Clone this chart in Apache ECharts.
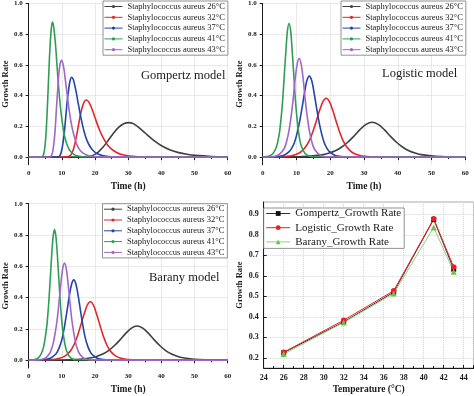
<!DOCTYPE html>
<html>
<head>
<meta charset="utf-8">
<title>Staphylococcus aureus growth rate</title>
<script src="https://cdn.jsdelivr.net/npm/echarts@6/dist/echarts.min.js"></script>
<style>
  html, body { margin: 0; padding: 0; background: #fff; }
  #chart { width: 474px; height: 396px; }
</style>
</head>
<body>
<div id="chart"></div>
<script>
// legend names / tick values
const tempNames = ['Staphylococcus aureus 26°C', 'Staphylococcus aureus 32°C', 'Staphylococcus aureus 37°C', 'Staphylococcus aureus 41°C', 'Staphylococcus aureus 43°C']
const rateTicks = [0, 0.2, 0.4, 0.6, 0.8, 1.0]
const rateTicks2 = [0.2, 0.3, 0.4, 0.5, 0.6, 0.7, 0.8, 0.9]

// Gompertz model: [time (h), growth rate]
const gomp26 = [[0,0],[15,0],[17.8,0.003],[19.35,0.011],[20.9,0.031],[22.45,0.065],[24,0.109],[25.55,0.155],[27.1,0.193],[28.65,0.217],[30.2,0.224],[31.45,0.218],[32.7,0.201],[33.95,0.179],[35.2,0.155],[37.7,0.109],[40.2,0.072],[42.7,0.046],[45.2,0.029],[47.7,0.018],[50.2,0.011],[55.2,0.004],[60,0.0015]]
const gomp32 = [[0,0],[10,0],[11.55,0.001],[12.2,0.005],[12.85,0.018],[13.5,0.051],[14.15,0.108],[14.8,0.181],[15.45,0.258],[16.1,0.321],[16.75,0.36],[17.4,0.372],[18.05,0.361],[18.7,0.334],[19.35,0.298],[20,0.257],[21.3,0.18],[22.6,0.12],[23.9,0.076],[25.2,0.048],[26.5,0.03],[27.8,0.018],[30.4,0.007],[33,0.0025],[35.6,0.001],[60,0]]
const gomp37 = [[0,0],[8,0],[8.8,0.001],[9.3,0.006],[9.75,0.026],[10.2,0.072],[10.7,0.15],[11.15,0.254],[11.6,0.36],[12.1,0.448],[12.55,0.503],[13,0.52],[13.45,0.505],[13.9,0.467],[14.4,0.416],[14.85,0.36],[15.8,0.252],[16.7,0.167],[17.6,0.107],[18.55,0.067],[19.5,0.041],[20.4,0.025],[22.25,0.0095],[24.1,0.0035],[26,0.0013],[60,0]]
const gomp41 = [[0,0],[3.3,0],[4.1,0.003],[4.45,0.014],[4.8,0.048],[5.15,0.125],[5.5,0.256],[5.85,0.43],[6.2,0.61],[6.55,0.758],[6.9,0.851],[7.2,0.88],[7.5,0.855],[7.85,0.791],[8.2,0.705],[8.5,0.609],[9.15,0.427],[9.8,0.283],[10.45,0.181],[11.1,0.113],[11.75,0.07],[12.4,0.043],[13.7,0.016],[15,0.006],[16.3,0.002],[60,0]]
const gomp43 = [[0,0],[5.5,0],[6.4,0.001],[6.8,0.008],[7.2,0.031],[7.6,0.087],[8,0.182],[8.35,0.307],[8.75,0.437],[9.1,0.543],[9.5,0.609],[9.9,0.63],[10.3,0.612],[10.7,0.566],[11.05,0.504],[11.45,0.436],[12.2,0.306],[13,0.202],[13.8,0.13],[14.55,0.081],[15.3,0.05],[16.1,0.031],[17.65,0.0115],[19.2,0.004],[20.75,0.0016],[60,0]]

// Logistic model
const logi26 = [[0,0],[6.9,0.001],[10.6,0.002],[14.2,0.006],[17.9,0.016],[19.7,0.026],[21.5,0.041],[23.3,0.064],[25.1,0.095],[26.95,0.135],[28.8,0.179],[30.6,0.213],[32.4,0.227],[34.2,0.213],[36,0.179],[37.85,0.135],[39.7,0.095],[41.5,0.064],[43.3,0.041],[45.1,0.026],[46.9,0.016],[50.6,0.006],[54.2,0.002],[57.9,0.001],[60,0]]
const logi32 = [[0,0],[4.8,0.001],[6.8,0.004],[8.8,0.01],[10.8,0.027],[11.8,0.044],[12.8,0.069],[13.8,0.107],[14.8,0.161],[15.8,0.229],[16.8,0.301],[17.8,0.36],[18.8,0.383],[19.8,0.36],[20.8,0.301],[21.8,0.229],[22.8,0.161],[23.8,0.107],[24.8,0.069],[25.8,0.044],[26.8,0.027],[28.8,0.01],[30.8,0.004],[32.8,0.001],[60,0]]
const logi37 = [[0,0],[3.5,0.002],[5,0.005],[6.45,0.014],[7.9,0.037],[8.65,0.06],[9.4,0.095],[10.1,0.148],[10.85,0.221],[11.6,0.314],[12.35,0.414],[13.05,0.495],[13.8,0.527],[14.55,0.495],[15.25,0.414],[16,0.314],[16.75,0.221],[17.5,0.148],[18.2,0.095],[18.95,0.06],[19.7,0.037],[21.15,0.014],[22.6,0.005],[24.1,0.002],[60,0]]
const logi41 = [[0,0],[1.1,0.003],[2.1,0.009],[3.05,0.023],[4,0.062],[4.45,0.099],[4.95,0.157],[5.4,0.244],[5.9,0.365],[6.35,0.519],[6.85,0.684],[7.3,0.818],[7.8,0.87],[8.3,0.818],[8.75,0.684],[9.25,0.519],[9.7,0.365],[10.2,0.244],[10.65,0.157],[11.1,0.099],[11.6,0.062],[12.55,0.023],[13.5,0.009],[14.5,0.003],[60,0]]
const logi43 = [[0,0],[2.55,0.002],[3.75,0.006],[4.9,0.017],[6.1,0.046],[6.7,0.073],[7.25,0.116],[7.85,0.18],[8.45,0.27],[9.05,0.384],[9.6,0.506],[10.2,0.604],[10.8,0.643],[11.4,0.604],[12,0.506],[12.55,0.384],[13.15,0.27],[13.75,0.18],[14.35,0.116],[14.9,0.073],[15.5,0.046],[16.7,0.017],[17.85,0.006],[19.05,0.002],[60,0]]

// Barany model
const bara26 = [[0,0],[8.55,0.001],[12,0.002],[15.45,0.006],[18.9,0.015],[20.65,0.025],[22.35,0.039],[24.1,0.061],[25.8,0.092],[27.55,0.13],[29.25,0.171],[31,0.205],[32.7,0.218],[34.4,0.205],[36.15,0.171],[37.85,0.13],[39.6,0.092],[41.3,0.061],[43.05,0.039],[44.75,0.025],[46.5,0.015],[49.95,0.006],[53.4,0.002],[56.85,0.001],[60,0]]
const bara32 = [[0,0],[5.15,0.001],[7.05,0.004],[9,0.01],[10.9,0.026],[11.85,0.042],[12.85,0.067],[13.8,0.105],[14.75,0.157],[15.7,0.223],[16.7,0.293],[17.65,0.351],[18.6,0.373],[19.55,0.351],[20.5,0.293],[21.5,0.223],[22.45,0.157],[23.4,0.105],[24.35,0.067],[25.35,0.042],[26.3,0.026],[28.2,0.01],[30.15,0.004],[32.05,0.001],[60,0]]
const bara37 = [[0,0],[3.9,0.002],[5.25,0.005],[6.65,0.014],[8.05,0.036],[8.75,0.058],[9.45,0.093],[10.15,0.144],[10.8,0.215],[11.5,0.306],[12.2,0.403],[12.9,0.482],[13.6,0.513],[14.3,0.482],[15,0.403],[15.7,0.306],[16.4,0.215],[17.05,0.144],[17.75,0.093],[18.45,0.058],[19.15,0.036],[20.55,0.014],[21.95,0.005],[23.3,0.002],[60,0]]
const bara41 = [[0,0],[1.45,0.003],[2.35,0.008],[3.25,0.022],[4.15,0.059],[4.6,0.095],[5.05,0.151],[5.55,0.234],[6,0.351],[6.45,0.498],[6.9,0.657],[7.35,0.785],[7.8,0.835],[8.25,0.785],[8.7,0.657],[9.15,0.498],[9.6,0.351],[10.05,0.234],[10.55,0.151],[11,0.095],[11.45,0.059],[12.35,0.022],[13.25,0.008],[14.15,0.003],[60,0]]
const bara43 = [[0,0],[3,0.002],[4.15,0.006],[5.25,0.017],[6.35,0.044],[6.9,0.071],[7.45,0.112],[8,0.174],[8.6,0.26],[9.15,0.37],[9.7,0.488],[10.25,0.583],[10.8,0.62],[11.35,0.583],[11.9,0.488],[12.45,0.37],[13,0.26],[13.6,0.174],[14.15,0.112],[14.7,0.071],[15.25,0.044],[16.35,0.017],[17.45,0.006],[18.6,0.002],[60,0]]

// growth rate vs temperature
const temps = [26, 32, 37, 41, 43]
const gompertzRate = [0.225, 0.375, 0.52, 0.875, 0.632]
const logisticRate = [0.227, 0.383, 0.527, 0.878, 0.643]
const baranyRate = [0.218, 0.372, 0.513, 0.836, 0.62]

const serif = 'Liberation Serif'
const ink = '#1a1a1a'
const tempColors = ['#404040', '#e3262b', '#2146a8', '#2f9e55', '#a066c8']

const tickFont = { fontFamily: serif, fontSize: 7, fontWeight: 'bold', color: ink }
const nameFont = { fontFamily: serif, fontSize: 9.5, fontWeight: 'bold', color: ink }
const gridLine = { show: true, lineStyle: { color: '#d4d4d4', type: 'dotted', width: 1 } }

function timeAxis(gridIndex) {
  return {
    type: 'value', gridIndex, min: 0, max: 60, interval: 10,
    name: 'Time (h)', nameLocation: 'middle', nameGap: 17, nameTextStyle: nameFont,
    axisLine: { lineStyle: { color: ink, width: 1 } },
    axisTick: { length: 3, lineStyle: { color: ink } },
    minorTick: { show: true, splitNumber: 2, length: 2, lineStyle: { color: ink } },
    axisLabel: Object.assign({ margin: 5 }, tickFont),
    splitLine: gridLine
  }
}

function rateAxis(gridIndex) {
  return {
    type: 'value', gridIndex, min: -0.05, max: 1,
    name: 'Growth Rate', nameLocation: 'middle', nameGap: 16,
    nameTextStyle: Object.assign({}, nameFont, { fontSize: 8.5 }),
    axisLine: { show: true, lineStyle: { color: ink, width: 1 } },
    axisTick: { show: true, length: 3, customValues: rateTicks, lineStyle: { color: ink } },
    axisLabel: Object.assign({ margin: 6, customValues: rateTicks, formatter: v => v.toFixed(1) }, tickFont),
    splitLine: gridLine
  }
}

function curveLegend(left, top) {
  return {
    orient: 'vertical', left, top,
    data: tempNames,
    itemWidth: 18, itemHeight: 4, itemGap: 1.8,
    padding: [1, 3, 1, 1],
    lineStyle: { width: 1 },
    borderColor: '#777', borderWidth: 0.8, backgroundColor: '#fff',
    textStyle: { fontFamily: serif, fontSize: 8.5, lineHeight: 9, color: ink }
  }
}

function curveSeries(axisIndex, sets) {
  return sets.map((data, i) => ({
    name: tempNames[i], type: 'line',
    xAxisIndex: axisIndex, yAxisIndex: axisIndex,
    data, smooth: 0.3, showSymbol: false, symbol: 'circle', symbolSize: 3,
    color: tempColors[i],
    lineStyle: { width: 1.6, color: tempColors[i] }
  }))
}

const modelLabel = (text, left, top) => ({
  text, left, top, padding: 0,
  textStyle: { fontFamily: serif, fontSize: 12.5, fontWeight: 'normal', color: ink }
})

const chart = echarts.init(document.getElementById('chart'), null, { renderer: 'canvas' })
chart.setOption({
  animation: false,
  backgroundColor: '#fff',
  title: [
    modelLabel('Gompertz model', 141, 69),
    modelLabel('Logistic model', 382, 67),
    modelLabel('Barany model', 149, 271)
  ],
  grid: [
    { left: 24, top: 2, width: 203.7, height: 162.75 },
    { left: 262.7, top: 2, width: 202.6, height: 162.75 },
    { left: 23.7, top: 203.7, width: 204, height: 165.2 },
    { left: 263.7, top: 202, width: 210, height: 167.7, show: true, borderColor: '#aaa', borderWidth: 1 }
  ],
  xAxis: [
    timeAxis(0), timeAxis(1), timeAxis(2),
    {
      type: 'value', gridIndex: 3, min: 24, max: 45, interval: 2,
      name: 'Temperature (°C)', nameLocation: 'middle', nameGap: 17, nameTextStyle: nameFont,
      axisLine: { lineStyle: { color: ink, width: 1 } },
      axisTick: { inside: true, length: 3, lineStyle: { color: ink } },
      minorTick: { show: true, splitNumber: 2, length: 2, lineStyle: { color: ink } },
      axisLabel: Object.assign({}, tickFont, { margin: 6, fontSize: 8, showMaxLabel: false }),
      splitLine: gridLine
    }
  ],
  yAxis: [
    rateAxis(0), rateAxis(1), rateAxis(2),
    {
      type: 'value', gridIndex: 3, min: 0.15, max: 0.96,
      name: 'Growth Rate', nameLocation: 'middle', nameGap: 19,
      nameTextStyle: Object.assign({}, nameFont, { fontSize: 8.5 }),
      axisLine: { show: true, lineStyle: { color: ink, width: 1 } },
      axisTick: { show: true, inside: true, length: 3, customValues: rateTicks2, lineStyle: { color: ink } },
      axisLabel: Object.assign({}, tickFont, { margin: 5, fontSize: 8, customValues: rateTicks2, formatter: v => v.toFixed(1) }),
      splitLine: gridLine
    }
  ],
  legend: [
    curveLegend(103, 1),
    curveLegend(341, 1),
    curveLegend(102.5, 203.7),
    {
      orient: 'vertical', left: 263.7, top: 208,
      data: ['Gompertz_Growth Rate', 'Logistic_Growth Rate', 'Barany_Growth Rate'],
      itemWidth: 24, itemHeight: 6, itemGap: 3.2,
      padding: [0, 3, 1, 2],
      lineStyle: { width: 1 },
      borderColor: '#777', borderWidth: 0.8, backgroundColor: '#fff',
      textStyle: { fontFamily: serif, fontSize: 11, lineHeight: 11, color: ink }
    }
  ],
  series: [
    ...curveSeries(0, [gomp26, gomp32, gomp37, gomp41, gomp43]),
    ...curveSeries(1, [logi26, logi32, logi37, logi41, logi43]),
    ...curveSeries(2, [bara26, bara32, bara37, bara41, bara43]),
    {
      name: 'Gompertz_Growth Rate', type: 'line', xAxisIndex: 3, yAxisIndex: 3,
      data: temps.map((t, i) => [t, gompertzRate[i]]),
      symbol: 'rect', symbolSize: 5, color: '#111',
      lineStyle: { width: 1, color: '#333' }
    },
    {
      name: 'Logistic_Growth Rate', type: 'line', xAxisIndex: 3, yAxisIndex: 3,
      data: temps.map((t, i) => [t, logisticRate[i]]),
      symbol: 'circle', symbolSize: 5.5, color: '#e8202a',
      lineStyle: { width: 1, color: '#e8202a' }
    },
    {
      name: 'Barany_Growth Rate', type: 'line', xAxisIndex: 3, yAxisIndex: 3,
      data: temps.map((t, i) => [t, baranyRate[i]]),
      symbol: 'triangle', symbolSize: 6, color: '#6cc24a',
      lineStyle: { width: 1, color: '#8fd080' }
    }
  ]
})
</script>
</body>
</html>
